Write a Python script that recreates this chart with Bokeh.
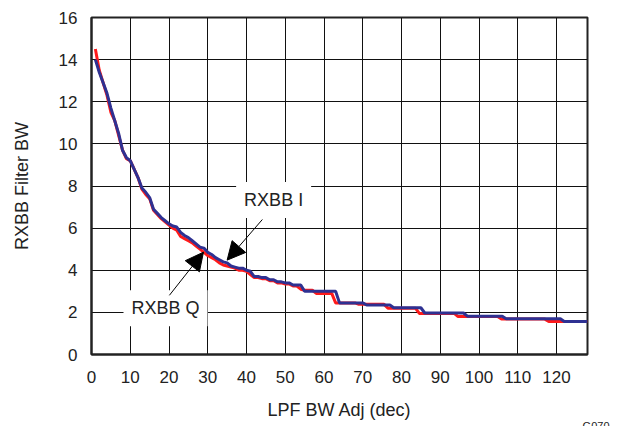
from bokeh.plotting import figure
from bokeh.models import Label, Arrow, NormalHead, FixedTicker, Range1d, Title
from bokeh.embed import file_html
from bokeh.resources import INLINE

# LPF BW Adj (dec) breakpoints and RXBB filter BW
i_x = [1, 2, 3, 4, 5, 6, 7, 8, 9, 10, 11, 12, 13, 14, 15, 16, 17, 18, 19, 20,
       21, 22, 23, 24, 25, 26, 27, 28, 29, 30, 31, 32, 33, 34, 35, 36, 37, 38,
       40, 41, 42, 44, 46, 48, 50, 52, 55, 64, 71, 78, 86, 97, 107, 122, 128]
i_y = [14.0, 13.4, 12.9, 12.4, 11.7, 11.1, 10.5, 9.7, 9.35, 9.2, 8.8, 8.4, 7.9,
       7.7, 7.45, 6.9, 6.7, 6.5, 6.35, 6.2, 6.1, 6.05, 5.8, 5.65, 5.55, 5.4,
       5.25, 5.1, 5.05, 4.85, 4.75, 4.6, 4.5, 4.4, 4.35, 4.2, 4.15, 4.1, 4.0,
       3.95, 3.7, 3.65, 3.55, 3.45, 3.4, 3.3, 3.0, 2.45, 2.35, 2.22, 1.97,
       1.82, 1.70, 1.57, 1.57]

q_x = [1, 2, 3, 4, 5, 6, 7, 8, 9, 10, 11, 12, 13, 14, 15, 16, 17, 18, 19, 20,
       21, 22, 23, 24, 25, 26, 27, 28, 29, 30, 31, 32, 33, 34, 35, 36, 37, 38,
       40, 41, 42, 44, 46, 48, 50, 52, 54, 55, 58, 63, 69, 76.5, 84.6, 94.6,
       105.8, 118, 128]
q_y = [14.5, 13.5, 12.9, 12.3, 11.5, 11.1, 10.4, 9.7, 9.3, 9.2, 8.8, 8.4, 7.85,
       7.6, 7.4, 6.85, 6.65, 6.45, 6.3, 6.15, 6.0, 5.9, 5.6, 5.5, 5.4, 5.3,
       5.15, 5.0, 4.85, 4.7, 4.6, 4.5, 4.35, 4.25, 4.2, 4.15, 4.1, 4.0, 3.95,
       3.8, 3.65, 3.6, 3.5, 3.4, 3.35, 3.25, 3.1, 3.05, 2.9, 2.45, 2.38, 2.2,
       1.95, 1.8, 1.68, 1.57, 1.57]

x_ticks = list(range(0, 121, 10))
y_ticks = list(range(0, 17, 2))


def code_path(xs, ys):
    """Vertices of a line joining successive integer codes: a value holds
    until the code just before the next breakpoint."""
    px, py = [], []
    for k in range(len(xs)):
        px.append(xs[k])
        py.append(ys[k])
        if k + 1 < len(xs) and xs[k + 1] - 1 > xs[k]:
            px.append(xs[k + 1] - 1)
            py.append(ys[k])
    return px, py


FONT = "Liberation Sans"

p = figure(width=618, height=426, output_backend="svg", toolbar_location=None,
           x_range=Range1d(0, 128), y_range=Range1d(0, 16),
           min_border_left=91, min_border_right=31, min_border_top=17,
           min_border_bottom=72)

p.background_fill_color = "white"
p.border_fill_color = "white"
p.outline_line_color = "#222222"
p.outline_line_width = 2

for ax in (p.xaxis[0], p.yaxis[0]):
    ax.major_tick_in = 0
    ax.major_tick_out = 0
    ax.minor_tick_in = 0
    ax.minor_tick_out = 0
    ax.axis_line_color = "#222222"
    ax.axis_line_width = 2
    ax.major_label_text_font = FONT
    ax.major_label_text_font_size = "17px"
    ax.major_label_text_color = "#222222"
    ax.axis_label_text_font = FONT
    ax.axis_label_text_font_size = "18px"
    ax.axis_label_text_font_style = "normal"
    ax.axis_label_text_color = "#222222"

p.xaxis.ticker = FixedTicker(ticks=x_ticks)
p.yaxis.ticker = FixedTicker(ticks=y_ticks)
p.xaxis.axis_label = "LPF BW Adj (dec)"
p.yaxis.axis_label = "RXBB Filter BW"
p.xaxis.major_label_standoff = 16
p.yaxis.major_label_standoff = 14
p.xaxis.axis_label_standoff = 14
p.yaxis.axis_label_standoff = 24

p.xgrid.ticker = FixedTicker(ticks=x_ticks)
p.ygrid.ticker = FixedTicker(ticks=y_ticks)
for g in (p.xgrid[0], p.ygrid[0]):
    g.grid_line_color = "#111111"
    g.grid_line_width = 1
    g.grid_line_alpha = 1

qx, qy = code_path(q_x, q_y)
ix, iy = code_path(i_x, i_y)
p.line(qx, qy, line_color="#ff1a1a", line_width=3)
p.line(ix, iy, line_color="#2e3192", line_width=3)

# Annotations
lab_i = Label(x=47.0, y=7.33, text="RXBB I", text_align="center",
              text_baseline="middle", text_font=FONT, text_font_size="18px",
              text_color="#222222", background_fill_color="white", padding=8)
lab_q = Label(x=19.1, y=2.19, text="RXBB Q", text_align="center",
              text_baseline="middle", text_font=FONT, text_font_size="18px",
              text_color="#222222", background_fill_color="white", padding=8)
p.add_layout(lab_i)
p.add_layout(lab_q)

p.add_layout(Arrow(x_start=44.1, y_start=6.41, x_end=35.0, y_end=4.48,
                   line_color="black", line_width=1,
                   end=NormalHead(size=18, fill_color="black", line_color="black")))
p.add_layout(Arrow(x_start=20.1, y_start=2.81, x_end=28.9, y_end=4.86,
                   line_color="black", line_width=1,
                   end=NormalHead(size=18, fill_color="black", line_color="black")))

tag = Title(text="G070", align="right", text_font=FONT, text_font_size="11px",
            text_font_style="normal", text_color="#222222", standoff=-10,
            offset=-22)
p.add_layout(tag, "below")

open("out.html", "w").write(file_html(p, INLINE))
